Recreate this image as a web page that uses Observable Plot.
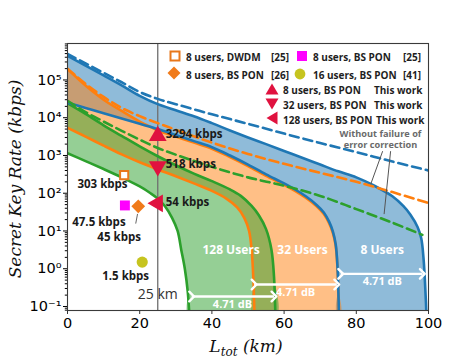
<!DOCTYPE html>
<html><head><meta charset="utf-8">
<script src="https://cdn.jsdelivr.net/npm/d3@7"></script>
<script src="https://cdn.jsdelivr.net/npm/@observablehq/plot@0.6"></script>
<style>
body{margin:0;background:#fff;}
#fig{position:relative;width:474px;height:363px;overflow:hidden;background:#fff;}
.lg{position:absolute;font-family:"Open Sans",sans-serif;font-weight:700;font-size:10px;color:#1e1e1e;white-space:nowrap;line-height:11px;transform:translateY(-50%);}
.sym{position:absolute;transform:translate(-50%,-50%);}
</style></head><body><div id="fig"></div>
<script>
// ---------- data (km, kbps) ----------
const blueUpperKm   = [0,5,10,15,20,25,30,35,40,45,50,55,60,65,70,75,80,85,90,93,95,97,98,98.6,99,99.3,99.5];
const blueUpperKbps = [436000,240000,132000,72000,38000,22900,15800,11000,7200,4600,3000,2000,1320,870,575,380,263,158,83,46,27,12.6,6.3,2.0,0.5,0.126,0.032];
const blueLowerKm   = [0,5,10,15,20,25,30,35,40,45,50,55,60,63,66,69,71,72.5,73.5,74.3,74.8,75.0,75.2];
const blueLowerKbps = [25100,18200,13200,9500,6900,5000,3470,2400,1660,1000,575,316,182,126,83,49,31,17.4,9.8,4.4,1.1,0.35,0.05];
const blueDashKm    = [0,5,10,15,20,25,30,40,50,60,70,80,90,100];
const blueDashKbps  = [490000,275000,155000,87000,48000,31600,22900,12300,6900,3800,2140,1230,690,400];

const orangeUpperKm   = [0,5,10,15,20,23,25,30,35,40,45,50,55,60,63,66,69,71,72.5,73.5,74.3,74.8,75.0,75.2];
const orangeUpperKbps = [195000,71000,30000,15100,7900,5750,4570,3160,2190,1510,910,525,290,166,115,76,45,28,15.8,8.9,4.0,1.0,0.32,0.05];
const orangeLowerKm   = [0,5,10,15,20,25,30,35,40,44,47,49,50.3,51.0,51.5,51.8];
const orangeLowerKbps = [5400,3160,1820,1070,660,427,282,182,115,72,42,22,10,3.2,0.5,0.05];
const orangeDashKm    = [0,5,10,15,20,25,30,40,50,60,70,80,90,100];
const orangeDashKbps  = [200000,79000,35500,18200,11000,7200,4800,2190,1100,600,347,200,107,55];

const greenUpperKm   = [0,5,10,15,20,25,30,35,40,45,48,51,53,55,56.5,57.2,57.6];
const greenUpperKbps = [24000,12600,6300,3300,1740,955,550,330,209,126,85,46,26,11.2,3.2,0.63,0.05];
const greenLowerKm   = [0,5,10,15,20,23,25,27,29,30.5,31.5,32.5,33.3,33.8];
const greenLowerKbps = [1150,710,437,263,151,100,72,45,22,10,3.2,1.0,0.25,0.05];
const greenDashKm    = [0,5,10,15,20,25,30,40,50,60,70,80,90,98.3];
const greenDashKbps  = [28000,14100,7900,4500,2630,1580,1050,500,263,158,85,38,16.6,7.9];

// literature points
const dwdmKm = 15.7, dwdmKbps = 303;          // 8 users, DWDM [25]
const bs26Km = 19.6, bs26Kbps = 45;           // 8 users, BS PON [26]
const bs25Km = 15.9, bs25Kbps = 47.5;         // 8 users, BS PON [25]
const bs41Km = 20.7, bs41Kbps = 1.5;          // 16 users, BS PON [41]
// this work at 25 km
const thisWorkKm = 25;
const thisWorkKbps = [3294, 518, 54];
const thisWorkUsers = [8, 32, 128];

// legend
const legendLabels = ["8 users, DWDM","8 users, BS PON","8 users, BS PON","16 users, BS PON","8 users, BS PON","32 users, BS PON","128 users, BS PON"];
const legendRefs   = ["[25]","[26]","[25]","[41]","This work","This work","This work"];

// annotations (data coordinates)
const litLabelText = ["303 kbps","47.5 kbps","45 kbps","1.5 kbps"];
const litLabelKm   = [9.7, 8.7, 14.3, 16.1];
const litLabelKbps = [169, 17, 6.6, 0.62];
const leaderKm = [19.4, 18.9], leaderKbps = [28.3, 15.7];
const regionText = ["128 Users","32 Users","8 Users"];
const regionKm = [45.3, 65.1, 87.2], regionKbps = 3.03;
const arrowFromKm = [34.4, 51.7, 75.7], arrowToKm = [57.2, 74.6, 98.3];
const arrowKbps = [0.184, 0.382, 0.733];
const dbText = "4.71 dB";
const dbKm = [45.7, 63.2, 87.2], dbKbps = [0.111, 0.239, 0.458];
const noteLines = ["Without failure of", "error correction"];
const noteKm = 86.7, noteKbps = [3800, 1850];
const pointerFromKm = [87.3, 89.5], pointerFromKbps = [1300, 1300];
const pointerToKm = [84.0, 87.7], pointerToKbps = [174, 28];
const xTicks = [0,20,40,60,80,100];
const yTicks = [0.1,1,10,100,1e3,1e4,1e5];

// ---------- build tables ----------
const pts = (xs, ys) => xs.map((x,i) => ({x, y: ys[i]}));
const band = (uK,uV,lK,lV) => pts(uK,uV).concat(pts(lK,lV).reverse());
const C = {blue:"#1f77b4", orange:"#ff7f0e", green:"#2ca02c", red:"#e0123f"};
const yDomain = [0.0783, 9.25e5];
const minorTicks = [0.01,0.1,1,10,100,1e3,1e4,1e5].flatMap(d => [2,3,4,5,6,7,8,9].map(k => k*d)).filter(v => v >= yDomain[0] && v <= yDomain[1]);
const sup = {"-":"⁻","0":"⁰","1":"¹","2":"²","3":"³","4":"⁴","5":"⁵","6":"⁶"};
const fmt = d => "10" + String(Math.round(Math.log10(d))).split("").map(c => sup[c]).join("");

const solid = (xs, ys, color) => Plot.line(pts(xs,ys), {x:"x", y:"y", stroke:color, strokeWidth:2.6, curve:"catmull-rom", clip:true});
const dashed = (xs, ys, color) => Plot.line(pts(xs,ys), {x:"x", y:"y", stroke:color, strokeWidth:2.6, strokeDasharray:"9,5", curve:"catmull-rom", clip:true});
const fillBand = (data, color) => Plot.line(data, {x:"x", y:"y", fill:color, fillOpacity:0.5, stroke:"none", curve:"catmull-rom", clip:true});
const bold = {fontFamily:"Open Sans", fontWeight:700};

const chart = Plot.plot({
  width: 474, height: 363,
  marginTop: 43, marginBottom: 53, marginLeft: 67, marginRight: 46,
  style: {fontFamily: "DejaVu Sans", background: "white"},
  x: {domain: [0,100]},
  y: {type: "log", domain: yDomain},
  marks: [
    fillBand(band(blueUpperKm, blueUpperKbps, blueLowerKm, blueLowerKbps), C.blue),
    fillBand(band(orangeUpperKm, orangeUpperKbps, orangeLowerKm, orangeLowerKbps), C.orange),
    fillBand(band(greenUpperKm, greenUpperKbps, greenLowerKm, greenLowerKbps), C.green),
    Plot.ruleX([thisWorkKm], {stroke:"#6e6e6e", strokeWidth:1.3}),
    solid(greenUpperKm, greenUpperKbps, C.green),
    solid(greenLowerKm, greenLowerKbps, C.green),
    solid(orangeUpperKm, orangeUpperKbps, C.orange),
    solid(orangeLowerKm, orangeLowerKbps, C.orange),
    solid(blueLowerKm, blueLowerKbps, C.blue),
    solid(blueUpperKm, blueUpperKbps, C.blue),
    dashed(blueDashKm, blueDashKbps, C.blue),
    dashed(orangeDashKm, orangeDashKbps, C.orange),
    dashed(greenDashKm, greenDashKbps, C.green),
    // white region labels and arrows
    Plot.text(regionText, {x:(d,i)=>regionKm[i], y:regionKbps, text:d=>d, fill:"white", fontSize:12, ...bold}),
    Plot.link(arrowFromKm, {x1:d=>d, x2:(d,i)=>arrowToKm[i], y1:(d,i)=>arrowKbps[i], y2:(d,i)=>arrowKbps[i], stroke:"white", strokeWidth:2.4, markerStart:"arrow", markerEnd:"arrow"}),
    Plot.text(dbKm, {x:d=>d, y:(d,i)=>dbKbps[i], text:()=>dbText, fill:"white", fontSize:11, ...bold}),
    // note
    Plot.link(pointerFromKm, {x1:d=>d, y1:(d,i)=>pointerFromKbps[i], x2:(d,i)=>pointerToKm[i], y2:(d,i)=>pointerToKbps[i], stroke:"#555", strokeWidth:1}),
    Plot.text(noteLines, {x:noteKm, y:(d,i)=>noteKbps[i], text:d=>d, fill:"#6a6a6a", fontSize:9.2, ...bold}),
    // literature points
    Plot.link([0], {x1:leaderKm[0], x2:leaderKm[1], y1:leaderKbps[0], y2:leaderKbps[1], stroke:"#666", strokeWidth:1}),
    Plot.dot([bs41Kbps], {x:bs41Km, y:d=>d, r:5.6, fill:"#c6c41f", stroke:"none"}),
    Plot.dot([bs25Kbps], {x:bs25Km, y:d=>d, symbol:"square", r:5.6, fill:"#ff00ff", stroke:"none"}),
    Plot.dot([bs26Kbps], {x:bs26Km, y:d=>d, symbol:"diamond2", r:6.2, fill:"#f07a1a", stroke:"none"}),
    Plot.dot([dwdmKbps], {x:dwdmKm, y:d=>d, symbol:"square", r:4.6, fill:"white", stroke:"#e8781c", strokeWidth:2}),
    Plot.text(litLabelText, {x:(d,i)=>litLabelKm[i], y:(d,i)=>litLabelKbps[i], text:d=>d, fill:"#1a1a1a", fontSize:11.5, ...bold}),
    Plot.text(["25 km"], {x:thisWorkKm, y:0.207, text:d=>d, fill:"#333", fontSize:14, fontFamily:"Open Sans"}),
    // this work
    Plot.dot(thisWorkKbps, {x:thisWorkKm, y:d=>d, symbol:"triangle", r:6.6, fill:C.red, stroke:"none", rotate:(d,i)=>[0,180,-90][i]}),
    Plot.text(thisWorkKbps, {x:thisWorkKm, y:d=>d, text:d=>`${d} kbps`, dx:8, dy:-1.5, textAnchor:"start", fill:"#1a1a1a", fontSize:11.5, ...bold}),
    Plot.frame({stroke:"#3a3a3a", strokeWidth:1.1}),
    Plot.axisX({ticks:xTicks, tickSize:4, tickPadding:3, fontSize:14.5, label:null, stroke:"#333"}),
    Plot.axisY({ticks:yTicks, tickSize:4, tickPadding:2, fontSize:14.5, tickFormat:fmt, label:null}),
    Plot.axisY(minorTicks, {tickSize:2.2, tickFormat:()=>"", label:null})
  ]
});
const fig = document.getElementById("fig");
fig.appendChild(chart);

// axis titles
const svg = d3.select(chart);
svg.append("text").attr("transform","translate(21,179) rotate(-90)")
  .attr("text-anchor","middle").attr("font-family","DejaVu Serif").attr("font-style","italic")
  .attr("font-size",17).attr("fill","#111").text("Secret Key Rate (kbps)");
const xl = svg.append("text").attr("x",246).attr("y",352).attr("text-anchor","middle")
  .attr("font-family","DejaVu Serif").attr("font-style","italic").attr("font-size",17).attr("fill","#111");
xl.append("tspan").text("L");
xl.append("tspan").attr("font-size",12).attr("dy",4).text("tot");
xl.append("tspan").attr("dy",-4).text(" (km)");

// legend (HTML overlay)
const symSvg = {
  osq:`<svg width="12" height="12"><rect x="1.5" y="1.5" width="9" height="9" fill="white" stroke="#e8781c" stroke-width="2"/></svg>`,
  dia:`<svg width="14" height="14"><path d="M7,0.5L13.5,7L7,13.5L0.5,7Z" fill="#f07a1a"/></svg>`,
  msq:`<svg width="12" height="12"><rect x="1" y="1" width="10" height="10" fill="#ff00ff"/></svg>`,
  cir:`<svg width="12" height="12"><circle cx="6" cy="6" r="5.4" fill="#c6c41f"/></svg>`,
  up:`<svg width="14" height="12"><path d="M7,0.5L13.5,11.5L0.5,11.5Z" fill="${C.red}"/></svg>`,
  dn:`<svg width="14" height="12"><path d="M7,11.5L13.5,0.5L0.5,0.5Z" fill="${C.red}"/></svg>`,
  lf:`<svg width="12" height="14"><path d="M0.5,7L11.5,0.5L11.5,13.5Z" fill="${C.red}"/></svg>`
};
const rows = [
  {s:"osq", sx:175, y:57, tx:186, rx:271, i:0},
  {s:"dia", sx:174, y:75, tx:186, rx:271, i:1},
  {s:"msq", sx:302, y:57, tx:313, rx:403, i:2},
  {s:"cir", sx:300, y:75, tx:313, rx:403, i:3},
  {s:"up", sx:272, y:90, tx:283, rx:374, i:4},
  {s:"dn", sx:272, y:105, tx:283, rx:374, i:5},
  {s:"lf", sx:272, y:120, tx:283, rx:376, i:6}
];
for (const r of rows) {
  const s = document.createElement("div"); s.className="sym"; s.style.left=r.sx+"px"; s.style.top=r.y+"px"; s.innerHTML=symSvg[r.s]; fig.appendChild(s);
  const t = document.createElement("div"); t.className="lg"; t.style.left=r.tx+"px"; t.style.top=r.y+"px"; t.textContent=legendLabels[r.i]; fig.appendChild(t);
  const f = document.createElement("div"); f.className="lg"; f.style.left=r.rx+"px"; f.style.top=r.y+"px"; f.textContent=legendRefs[r.i]; fig.appendChild(f);
}
</script>
</body></html>
